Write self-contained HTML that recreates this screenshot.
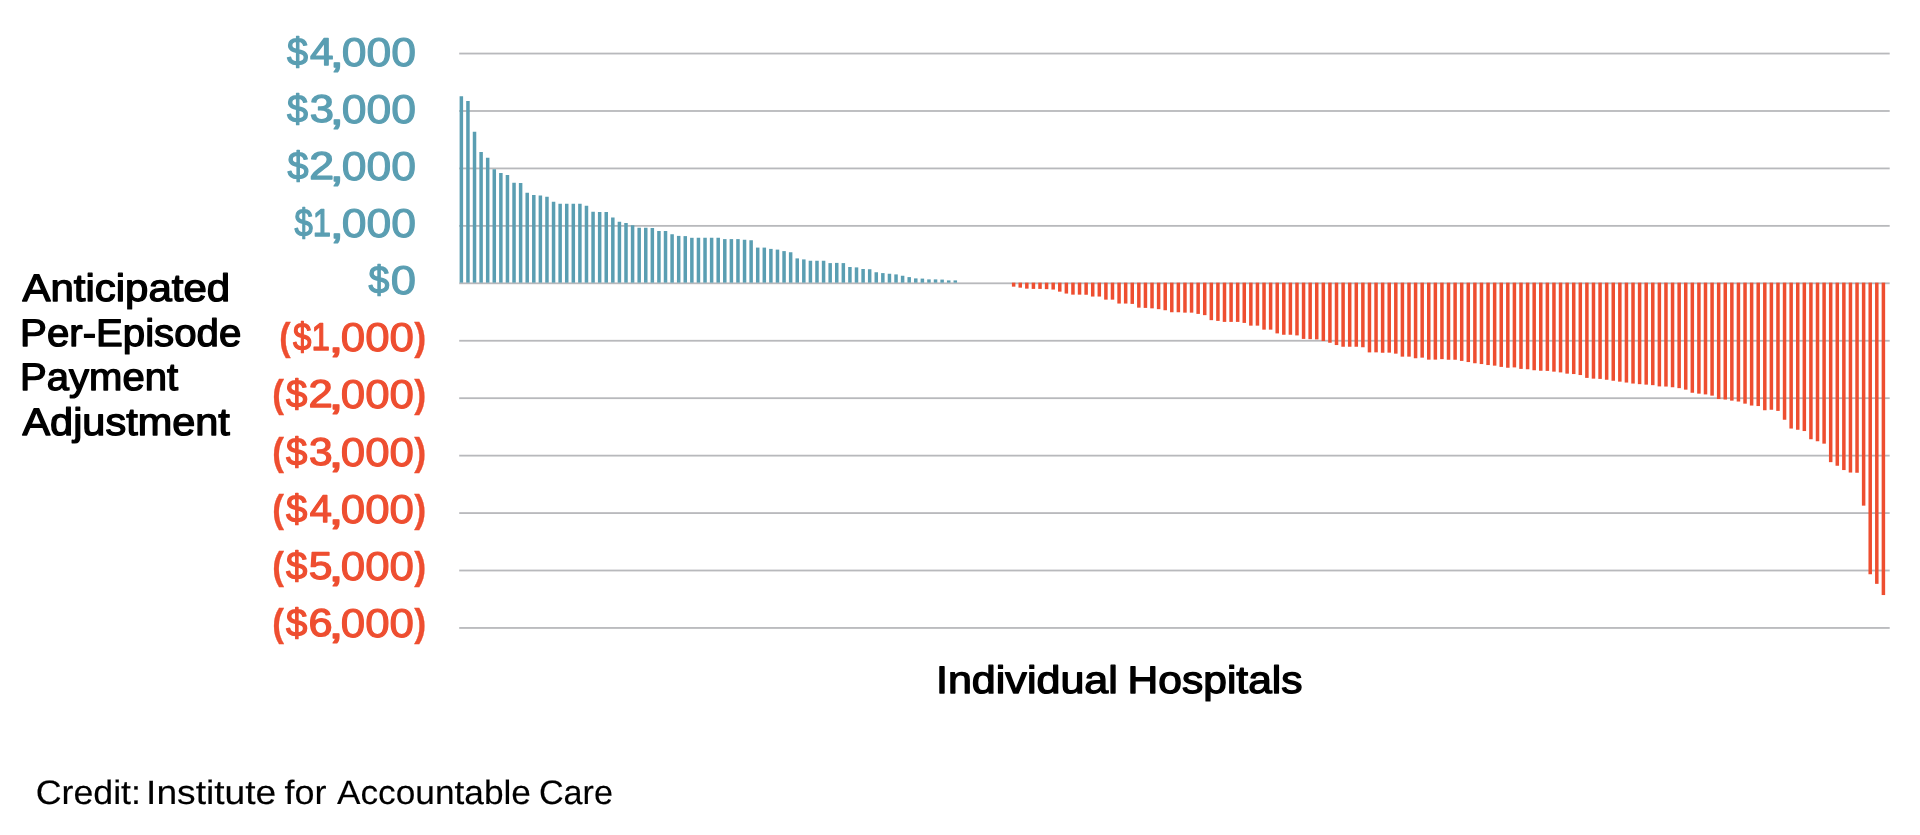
<!DOCTYPE html>
<html lang="en"><head><meta charset="utf-8"><title>Chart</title>
<style>
html,body{margin:0;padding:0;background:#fff;}
body{width:1920px;height:835px;position:relative;overflow:hidden;font-family:"Liberation Sans",sans-serif;}
</style></head><body>
<svg width="1920" height="835" viewBox="0 0 1920 835" style="position:absolute;left:0;top:0;will-change:transform">
<rect x="459.2" y="52.65" width="1430.5" height="1.8" fill="#b8b9bc"/>
<rect x="459.2" y="110.09" width="1430.5" height="1.8" fill="#b8b9bc"/>
<rect x="459.2" y="167.53" width="1430.5" height="1.8" fill="#b8b9bc"/>
<rect x="459.2" y="224.97" width="1430.5" height="1.8" fill="#b8b9bc"/>
<rect x="459.2" y="282.41" width="1430.5" height="1.8" fill="#b8b9bc"/>
<rect x="459.2" y="339.85" width="1430.5" height="1.8" fill="#b8b9bc"/>
<rect x="459.2" y="397.29" width="1430.5" height="1.8" fill="#b8b9bc"/>
<rect x="459.2" y="454.73" width="1430.5" height="1.8" fill="#b8b9bc"/>
<rect x="459.2" y="512.17" width="1430.5" height="1.8" fill="#b8b9bc"/>
<rect x="459.2" y="569.61" width="1430.5" height="1.8" fill="#b8b9bc"/>
<rect x="459.2" y="627.05" width="1430.5" height="1.8" fill="#b8b9bc"/>
<g fill="#5a9eb2">
<rect x="459.60" y="96.25" width="3.5" height="186.40"/>
<rect x="466.19" y="101.00" width="3.5" height="181.65"/>
<rect x="472.77" y="131.75" width="3.5" height="150.90"/>
<rect x="479.36" y="152.00" width="3.5" height="130.65"/>
<rect x="485.94" y="157.75" width="3.5" height="124.90"/>
<rect x="492.53" y="169.25" width="3.5" height="113.40"/>
<rect x="499.12" y="173.00" width="3.5" height="109.65"/>
<rect x="505.70" y="175.00" width="3.5" height="107.65"/>
<rect x="512.29" y="182.75" width="3.5" height="99.90"/>
<rect x="518.87" y="183.00" width="3.5" height="99.65"/>
<rect x="525.46" y="192.75" width="3.5" height="89.90"/>
<rect x="532.05" y="195.00" width="3.5" height="87.65"/>
<rect x="538.63" y="195.50" width="3.5" height="87.15"/>
<rect x="545.22" y="196.75" width="3.5" height="85.90"/>
<rect x="551.80" y="201.75" width="3.5" height="80.90"/>
<rect x="558.39" y="203.75" width="3.5" height="78.90"/>
<rect x="564.98" y="203.75" width="3.5" height="78.90"/>
<rect x="571.56" y="203.75" width="3.5" height="78.90"/>
<rect x="578.15" y="203.75" width="3.5" height="78.90"/>
<rect x="584.73" y="205.75" width="3.5" height="76.90"/>
<rect x="591.32" y="211.75" width="3.5" height="70.90"/>
<rect x="597.91" y="212.00" width="3.5" height="70.65"/>
<rect x="604.49" y="212.00" width="3.5" height="70.65"/>
<rect x="611.08" y="217.50" width="3.5" height="65.15"/>
<rect x="617.66" y="221.75" width="3.5" height="60.90"/>
<rect x="624.25" y="223.00" width="3.5" height="59.65"/>
<rect x="630.84" y="225.25" width="3.5" height="57.40"/>
<rect x="637.42" y="227.75" width="3.5" height="54.90"/>
<rect x="644.01" y="227.75" width="3.5" height="54.90"/>
<rect x="650.59" y="228.00" width="3.5" height="54.65"/>
<rect x="657.18" y="231.00" width="3.5" height="51.65"/>
<rect x="663.77" y="231.00" width="3.5" height="51.65"/>
<rect x="670.35" y="234.25" width="3.5" height="48.40"/>
<rect x="676.94" y="235.90" width="3.5" height="46.75"/>
<rect x="683.52" y="236.10" width="3.5" height="46.55"/>
<rect x="690.11" y="237.80" width="3.5" height="44.85"/>
<rect x="696.70" y="237.75" width="3.5" height="44.90"/>
<rect x="703.28" y="237.75" width="3.5" height="44.90"/>
<rect x="709.87" y="237.75" width="3.5" height="44.90"/>
<rect x="716.45" y="237.75" width="3.5" height="44.90"/>
<rect x="723.04" y="239.10" width="3.5" height="43.55"/>
<rect x="729.63" y="239.10" width="3.5" height="43.55"/>
<rect x="736.21" y="239.10" width="3.5" height="43.55"/>
<rect x="742.80" y="239.75" width="3.5" height="42.90"/>
<rect x="749.38" y="240.25" width="3.5" height="42.40"/>
<rect x="755.97" y="247.60" width="3.5" height="35.05"/>
<rect x="762.56" y="247.60" width="3.5" height="35.05"/>
<rect x="769.14" y="248.90" width="3.5" height="33.75"/>
<rect x="775.73" y="249.60" width="3.5" height="33.05"/>
<rect x="782.31" y="251.10" width="3.5" height="31.55"/>
<rect x="788.90" y="252.25" width="3.5" height="30.40"/>
<rect x="795.49" y="258.40" width="3.5" height="24.25"/>
<rect x="802.07" y="259.40" width="3.5" height="23.25"/>
<rect x="808.66" y="260.75" width="3.5" height="21.90"/>
<rect x="815.24" y="260.75" width="3.5" height="21.90"/>
<rect x="821.83" y="260.75" width="3.5" height="21.90"/>
<rect x="828.42" y="263.10" width="3.5" height="19.55"/>
<rect x="835.00" y="262.90" width="3.5" height="19.75"/>
<rect x="841.59" y="263.10" width="3.5" height="19.55"/>
<rect x="848.17" y="267.00" width="3.5" height="15.65"/>
<rect x="854.76" y="267.40" width="3.5" height="15.25"/>
<rect x="861.35" y="269.00" width="3.5" height="13.65"/>
<rect x="867.93" y="269.25" width="3.5" height="13.40"/>
<rect x="874.52" y="272.25" width="3.5" height="10.40"/>
<rect x="881.10" y="273.10" width="3.5" height="9.55"/>
<rect x="887.69" y="273.75" width="3.5" height="8.90"/>
<rect x="894.28" y="274.40" width="3.5" height="8.25"/>
<rect x="900.86" y="275.75" width="3.5" height="6.90"/>
<rect x="907.45" y="277.10" width="3.5" height="5.55"/>
<rect x="914.03" y="278.40" width="3.5" height="4.25"/>
<rect x="920.62" y="278.60" width="3.5" height="4.05"/>
<rect x="927.21" y="279.40" width="3.5" height="3.25"/>
<rect x="933.79" y="279.40" width="3.5" height="3.25"/>
<rect x="940.38" y="279.60" width="3.5" height="3.05"/>
<rect x="946.96" y="280.40" width="3.5" height="2.25"/>
<rect x="953.55" y="280.40" width="3.5" height="2.25"/>
</g>
<g fill="#ee4e30">
<rect x="1011.90" y="282.65" width="3.5" height="4.00"/>
<rect x="1018.49" y="282.65" width="3.5" height="5.00"/>
<rect x="1025.08" y="282.65" width="3.5" height="6.00"/>
<rect x="1031.67" y="282.65" width="3.5" height="6.25"/>
<rect x="1038.26" y="282.65" width="3.5" height="6.25"/>
<rect x="1044.85" y="282.65" width="3.5" height="6.50"/>
<rect x="1051.43" y="282.65" width="3.5" height="6.90"/>
<rect x="1058.02" y="282.65" width="3.5" height="9.00"/>
<rect x="1064.61" y="282.65" width="3.5" height="10.90"/>
<rect x="1071.20" y="282.65" width="3.5" height="12.00"/>
<rect x="1077.79" y="282.65" width="3.5" height="12.00"/>
<rect x="1084.38" y="282.65" width="3.5" height="12.10"/>
<rect x="1090.97" y="282.65" width="3.5" height="13.90"/>
<rect x="1097.56" y="282.65" width="3.5" height="13.90"/>
<rect x="1104.15" y="282.65" width="3.5" height="17.00"/>
<rect x="1110.73" y="282.65" width="3.5" height="17.00"/>
<rect x="1117.32" y="282.65" width="3.5" height="20.90"/>
<rect x="1123.91" y="282.65" width="3.5" height="20.90"/>
<rect x="1130.50" y="282.65" width="3.5" height="21.25"/>
<rect x="1137.09" y="282.65" width="3.5" height="25.00"/>
<rect x="1143.68" y="282.65" width="3.5" height="25.25"/>
<rect x="1150.27" y="282.65" width="3.5" height="25.70"/>
<rect x="1156.86" y="282.65" width="3.5" height="26.50"/>
<rect x="1163.45" y="282.65" width="3.5" height="27.60"/>
<rect x="1170.04" y="282.65" width="3.5" height="29.60"/>
<rect x="1176.62" y="282.65" width="3.5" height="29.60"/>
<rect x="1183.21" y="282.65" width="3.5" height="30.00"/>
<rect x="1189.80" y="282.65" width="3.5" height="30.00"/>
<rect x="1196.39" y="282.65" width="3.5" height="31.25"/>
<rect x="1202.98" y="282.65" width="3.5" height="32.50"/>
<rect x="1209.57" y="282.65" width="3.5" height="37.50"/>
<rect x="1216.16" y="282.65" width="3.5" height="38.25"/>
<rect x="1222.75" y="282.65" width="3.5" height="39.25"/>
<rect x="1229.34" y="282.65" width="3.5" height="39.25"/>
<rect x="1235.93" y="282.65" width="3.5" height="39.25"/>
<rect x="1242.51" y="282.65" width="3.5" height="40.25"/>
<rect x="1249.10" y="282.65" width="3.5" height="43.00"/>
<rect x="1255.69" y="282.65" width="3.5" height="43.00"/>
<rect x="1262.28" y="282.65" width="3.5" height="47.00"/>
<rect x="1268.87" y="282.65" width="3.5" height="47.00"/>
<rect x="1275.46" y="282.65" width="3.5" height="50.75"/>
<rect x="1282.05" y="282.65" width="3.5" height="52.10"/>
<rect x="1288.64" y="282.65" width="3.5" height="52.10"/>
<rect x="1295.23" y="282.65" width="3.5" height="52.75"/>
<rect x="1301.82" y="282.65" width="3.5" height="56.25"/>
<rect x="1308.40" y="282.65" width="3.5" height="56.50"/>
<rect x="1314.99" y="282.65" width="3.5" height="56.75"/>
<rect x="1321.58" y="282.65" width="3.5" height="58.40"/>
<rect x="1328.17" y="282.65" width="3.5" height="60.10"/>
<rect x="1334.76" y="282.65" width="3.5" height="62.40"/>
<rect x="1341.35" y="282.65" width="3.5" height="64.10"/>
<rect x="1347.94" y="282.65" width="3.5" height="64.10"/>
<rect x="1354.53" y="282.65" width="3.5" height="64.10"/>
<rect x="1361.12" y="282.65" width="3.5" height="64.60"/>
<rect x="1367.71" y="282.65" width="3.5" height="69.75"/>
<rect x="1374.30" y="282.65" width="3.5" height="69.70"/>
<rect x="1380.88" y="282.65" width="3.5" height="70.10"/>
<rect x="1387.47" y="282.65" width="3.5" height="70.00"/>
<rect x="1394.06" y="282.65" width="3.5" height="71.00"/>
<rect x="1400.65" y="282.65" width="3.5" height="74.00"/>
<rect x="1407.24" y="282.65" width="3.5" height="74.00"/>
<rect x="1413.83" y="282.65" width="3.5" height="75.60"/>
<rect x="1420.42" y="282.65" width="3.5" height="75.00"/>
<rect x="1427.01" y="282.65" width="3.5" height="77.00"/>
<rect x="1433.60" y="282.65" width="3.5" height="77.00"/>
<rect x="1440.18" y="282.65" width="3.5" height="76.50"/>
<rect x="1446.77" y="282.65" width="3.5" height="77.10"/>
<rect x="1453.36" y="282.65" width="3.5" height="77.10"/>
<rect x="1459.95" y="282.65" width="3.5" height="78.25"/>
<rect x="1466.54" y="282.65" width="3.5" height="79.40"/>
<rect x="1473.13" y="282.65" width="3.5" height="80.60"/>
<rect x="1479.72" y="282.65" width="3.5" height="81.40"/>
<rect x="1486.31" y="282.65" width="3.5" height="82.40"/>
<rect x="1492.90" y="282.65" width="3.5" height="83.00"/>
<rect x="1499.49" y="282.65" width="3.5" height="84.25"/>
<rect x="1506.08" y="282.65" width="3.5" height="85.10"/>
<rect x="1512.66" y="282.65" width="3.5" height="84.75"/>
<rect x="1519.25" y="282.65" width="3.5" height="86.25"/>
<rect x="1525.84" y="282.65" width="3.5" height="86.60"/>
<rect x="1532.43" y="282.65" width="3.5" height="87.60"/>
<rect x="1539.02" y="282.65" width="3.5" height="88.10"/>
<rect x="1545.61" y="282.65" width="3.5" height="88.25"/>
<rect x="1552.20" y="282.65" width="3.5" height="89.00"/>
<rect x="1558.79" y="282.65" width="3.5" height="89.75"/>
<rect x="1565.38" y="282.65" width="3.5" height="91.00"/>
<rect x="1571.97" y="282.65" width="3.5" height="91.40"/>
<rect x="1578.55" y="282.65" width="3.5" height="92.40"/>
<rect x="1585.14" y="282.65" width="3.5" height="95.25"/>
<rect x="1591.73" y="282.65" width="3.5" height="96.00"/>
<rect x="1598.32" y="282.65" width="3.5" height="96.25"/>
<rect x="1604.91" y="282.65" width="3.5" height="97.10"/>
<rect x="1611.50" y="282.65" width="3.5" height="98.10"/>
<rect x="1618.09" y="282.65" width="3.5" height="99.00"/>
<rect x="1624.68" y="282.65" width="3.5" height="99.90"/>
<rect x="1631.27" y="282.65" width="3.5" height="100.90"/>
<rect x="1637.86" y="282.65" width="3.5" height="101.50"/>
<rect x="1644.44" y="282.65" width="3.5" height="102.00"/>
<rect x="1651.03" y="282.65" width="3.5" height="102.50"/>
<rect x="1657.62" y="282.65" width="3.5" height="103.75"/>
<rect x="1664.21" y="282.65" width="3.5" height="103.90"/>
<rect x="1670.80" y="282.65" width="3.5" height="104.60"/>
<rect x="1677.39" y="282.65" width="3.5" height="105.50"/>
<rect x="1683.98" y="282.65" width="3.5" height="107.00"/>
<rect x="1690.57" y="282.65" width="3.5" height="110.10"/>
<rect x="1697.16" y="282.65" width="3.5" height="111.00"/>
<rect x="1703.74" y="282.65" width="3.5" height="111.75"/>
<rect x="1710.33" y="282.65" width="3.5" height="113.00"/>
<rect x="1716.92" y="282.65" width="3.5" height="116.40"/>
<rect x="1723.51" y="282.65" width="3.5" height="116.90"/>
<rect x="1730.10" y="282.65" width="3.5" height="118.00"/>
<rect x="1736.69" y="282.65" width="3.5" height="118.90"/>
<rect x="1743.28" y="282.65" width="3.5" height="121.00"/>
<rect x="1749.87" y="282.65" width="3.5" height="122.90"/>
<rect x="1756.46" y="282.65" width="3.5" height="123.40"/>
<rect x="1763.05" y="282.65" width="3.5" height="127.60"/>
<rect x="1769.63" y="282.65" width="3.5" height="127.10"/>
<rect x="1776.22" y="282.65" width="3.5" height="128.25"/>
<rect x="1782.81" y="282.65" width="3.5" height="137.10"/>
<rect x="1789.40" y="282.65" width="3.5" height="145.90"/>
<rect x="1795.99" y="282.65" width="3.5" height="147.10"/>
<rect x="1802.58" y="282.65" width="3.5" height="148.40"/>
<rect x="1809.17" y="282.65" width="3.5" height="156.60"/>
<rect x="1815.76" y="282.65" width="3.5" height="158.60"/>
<rect x="1822.35" y="282.65" width="3.5" height="161.00"/>
<rect x="1828.94" y="282.65" width="3.5" height="179.50"/>
<rect x="1835.53" y="282.65" width="3.5" height="183.10"/>
<rect x="1842.11" y="282.65" width="3.5" height="187.40"/>
<rect x="1848.70" y="282.65" width="3.5" height="189.90"/>
<rect x="1855.29" y="282.65" width="3.5" height="190.10"/>
<rect x="1861.88" y="282.65" width="3.5" height="223.00"/>
<rect x="1868.47" y="282.65" width="3.5" height="291.60"/>
<rect x="1875.06" y="282.65" width="3.5" height="301.20"/>
<rect x="1881.65" y="282.65" width="3.5" height="312.40"/>
</g>
<g font-family="'Liberation Sans', sans-serif" stroke-linejoin="round" style="text-rendering:geometricPrecision">
<text fill="#5a9eb2" stroke="#5a9eb2"><tspan x="286.91" y="65" font-size="38.80" font-weight="normal" stroke-width="1.3" textLength="20.99" lengthAdjust="spacingAndGlyphs">$</tspan><tspan x="310.09" y="65" font-size="38.80" font-weight="normal" stroke-width="1.3" textLength="23.43" lengthAdjust="spacingAndGlyphs">4</tspan><tspan x="329.77" y="67" font-size="38.80" font-weight="normal" stroke-width="1.3" textLength="14.11" lengthAdjust="spacingAndGlyphs">,</tspan><tspan x="341.87" y="66" font-size="40.16" font-weight="normal" stroke-width="1.05" textLength="74.23" lengthAdjust="spacingAndGlyphs">000</tspan></text>
<text fill="#5a9eb2" stroke="#5a9eb2"><tspan x="286.91" y="122" font-size="38.80" font-weight="normal" stroke-width="1.3" textLength="20.99" lengthAdjust="spacingAndGlyphs">$</tspan><tspan x="309.67" y="122" font-size="38.80" font-weight="normal" stroke-width="1.3" textLength="24.16" lengthAdjust="spacingAndGlyphs">3</tspan><tspan x="329.77" y="124" font-size="38.80" font-weight="normal" stroke-width="1.3" textLength="14.11" lengthAdjust="spacingAndGlyphs">,</tspan><tspan x="341.87" y="123" font-size="40.16" font-weight="normal" stroke-width="1.05" textLength="74.23" lengthAdjust="spacingAndGlyphs">000</tspan></text>
<text fill="#5a9eb2" stroke="#5a9eb2"><tspan x="287.41" y="179" font-size="38.80" font-weight="normal" stroke-width="1.3" textLength="20.99" lengthAdjust="spacingAndGlyphs">$</tspan><tspan x="309.24" y="179" font-size="38.80" font-weight="normal" stroke-width="1.3" textLength="24.84" lengthAdjust="spacingAndGlyphs">2</tspan><tspan x="329.77" y="181" font-size="38.80" font-weight="normal" stroke-width="1.3" textLength="14.11" lengthAdjust="spacingAndGlyphs">,</tspan><tspan x="341.87" y="180" font-size="40.16" font-weight="normal" stroke-width="1.05" textLength="74.23" lengthAdjust="spacingAndGlyphs">000</tspan></text>
<text fill="#5a9eb2" stroke="#5a9eb2"><tspan x="294.59" y="236" font-size="38.80" font-weight="normal" stroke-width="1.3" textLength="36.49" lengthAdjust="spacingAndGlyphs">$1</tspan><tspan x="329.77" y="238" font-size="38.80" font-weight="normal" stroke-width="1.3" textLength="14.11" lengthAdjust="spacingAndGlyphs">,</tspan><tspan x="341.87" y="237" font-size="40.16" font-weight="normal" stroke-width="1.05" textLength="74.23" lengthAdjust="spacingAndGlyphs">000</tspan></text>
<text fill="#5a9eb2" stroke="#5a9eb2"><tspan x="368.50" y="293" font-size="38.80" font-weight="normal" stroke-width="1.3" textLength="20.80" lengthAdjust="spacingAndGlyphs">$</tspan><tspan x="390.74" y="294" font-size="40.16" font-weight="normal" stroke-width="1.05" textLength="25.25" lengthAdjust="spacingAndGlyphs">0</tspan></text>
<text fill="#ee4e30" stroke="#ee4e30"><tspan x="279.33" y="350" font-size="38.80" font-weight="bold" stroke-width="0.3" textLength="11.40" lengthAdjust="spacingAndGlyphs">(</tspan><tspan x="293.09" y="350" font-size="38.80" font-weight="normal" stroke-width="1.3" textLength="36.80" lengthAdjust="spacingAndGlyphs">$1</tspan><tspan x="328.43" y="352" font-size="38.80" font-weight="normal" stroke-width="1.3" textLength="14.98" lengthAdjust="spacingAndGlyphs">,</tspan><tspan x="340.79" y="351" font-size="40.16" font-weight="normal" stroke-width="1.05" textLength="73.14" lengthAdjust="spacingAndGlyphs">000</tspan><tspan x="414.14" y="350" font-size="38.80" font-weight="bold" stroke-width="0.3" textLength="11.94" lengthAdjust="spacingAndGlyphs">)</tspan></text>
<text fill="#ee4e30" stroke="#ee4e30"><tspan x="272.29" y="407" font-size="38.80" font-weight="bold" stroke-width="0.3" textLength="11.75" lengthAdjust="spacingAndGlyphs">(</tspan><tspan x="285.90" y="407" font-size="38.80" font-weight="normal" stroke-width="1.3" textLength="21.30" lengthAdjust="spacingAndGlyphs">$</tspan><tspan x="308.57" y="407" font-size="38.80" font-weight="normal" stroke-width="1.3" textLength="24.28" lengthAdjust="spacingAndGlyphs">2</tspan><tspan x="328.43" y="409" font-size="38.80" font-weight="normal" stroke-width="1.3" textLength="14.98" lengthAdjust="spacingAndGlyphs">,</tspan><tspan x="340.79" y="408" font-size="40.16" font-weight="normal" stroke-width="1.05" textLength="73.14" lengthAdjust="spacingAndGlyphs">000</tspan><tspan x="414.14" y="407" font-size="38.80" font-weight="bold" stroke-width="0.3" textLength="11.94" lengthAdjust="spacingAndGlyphs">)</tspan></text>
<text fill="#ee4e30" stroke="#ee4e30"><tspan x="272.29" y="465" font-size="38.80" font-weight="bold" stroke-width="0.3" textLength="11.75" lengthAdjust="spacingAndGlyphs">(</tspan><tspan x="285.90" y="465" font-size="38.80" font-weight="normal" stroke-width="1.3" textLength="21.30" lengthAdjust="spacingAndGlyphs">$</tspan><tspan x="308.99" y="465" font-size="38.80" font-weight="normal" stroke-width="1.3" textLength="23.61" lengthAdjust="spacingAndGlyphs">3</tspan><tspan x="328.43" y="467" font-size="38.80" font-weight="normal" stroke-width="1.3" textLength="14.98" lengthAdjust="spacingAndGlyphs">,</tspan><tspan x="340.79" y="466" font-size="40.16" font-weight="normal" stroke-width="1.05" textLength="73.14" lengthAdjust="spacingAndGlyphs">000</tspan><tspan x="414.14" y="465" font-size="38.80" font-weight="bold" stroke-width="0.3" textLength="11.94" lengthAdjust="spacingAndGlyphs">)</tspan></text>
<text fill="#ee4e30" stroke="#ee4e30"><tspan x="272.29" y="522" font-size="38.80" font-weight="bold" stroke-width="0.3" textLength="11.75" lengthAdjust="spacingAndGlyphs">(</tspan><tspan x="285.90" y="522" font-size="38.80" font-weight="normal" stroke-width="1.3" textLength="21.30" lengthAdjust="spacingAndGlyphs">$</tspan><tspan x="309.80" y="522" font-size="38.80" font-weight="normal" stroke-width="1.3" textLength="22.10" lengthAdjust="spacingAndGlyphs">4</tspan><tspan x="328.43" y="524" font-size="38.80" font-weight="normal" stroke-width="1.3" textLength="14.98" lengthAdjust="spacingAndGlyphs">,</tspan><tspan x="340.79" y="523" font-size="40.16" font-weight="normal" stroke-width="1.05" textLength="73.14" lengthAdjust="spacingAndGlyphs">000</tspan><tspan x="414.14" y="522" font-size="38.80" font-weight="bold" stroke-width="0.3" textLength="11.94" lengthAdjust="spacingAndGlyphs">)</tspan></text>
<text fill="#ee4e30" stroke="#ee4e30"><tspan x="272.29" y="579" font-size="38.80" font-weight="bold" stroke-width="0.3" textLength="11.75" lengthAdjust="spacingAndGlyphs">(</tspan><tspan x="285.90" y="579" font-size="38.80" font-weight="normal" stroke-width="1.3" textLength="21.30" lengthAdjust="spacingAndGlyphs">$</tspan><tspan x="308.86" y="579" font-size="38.80" font-weight="normal" stroke-width="1.3" textLength="23.65" lengthAdjust="spacingAndGlyphs">5</tspan><tspan x="328.43" y="581" font-size="38.80" font-weight="normal" stroke-width="1.3" textLength="14.98" lengthAdjust="spacingAndGlyphs">,</tspan><tspan x="340.79" y="580" font-size="40.16" font-weight="normal" stroke-width="1.05" textLength="73.14" lengthAdjust="spacingAndGlyphs">000</tspan><tspan x="414.14" y="579" font-size="38.80" font-weight="bold" stroke-width="0.3" textLength="11.94" lengthAdjust="spacingAndGlyphs">)</tspan></text>
<text fill="#ee4e30" stroke="#ee4e30"><tspan x="272.29" y="636" font-size="38.80" font-weight="bold" stroke-width="0.3" textLength="11.75" lengthAdjust="spacingAndGlyphs">(</tspan><tspan x="285.90" y="636" font-size="38.80" font-weight="normal" stroke-width="1.3" textLength="21.30" lengthAdjust="spacingAndGlyphs">$</tspan><tspan x="308.53" y="636" font-size="38.80" font-weight="normal" stroke-width="1.3" textLength="24.08" lengthAdjust="spacingAndGlyphs">6</tspan><tspan x="328.43" y="638" font-size="38.80" font-weight="normal" stroke-width="1.3" textLength="14.98" lengthAdjust="spacingAndGlyphs">,</tspan><tspan x="340.79" y="637" font-size="40.16" font-weight="normal" stroke-width="1.05" textLength="73.14" lengthAdjust="spacingAndGlyphs">000</tspan><tspan x="414.14" y="636" font-size="38.80" font-weight="bold" stroke-width="0.3" textLength="11.94" lengthAdjust="spacingAndGlyphs">)</tspan></text>
<text fill="#000" stroke="#000"><tspan x="22.45" y="301" font-size="38.40" font-weight="normal" stroke-width="1.3" textLength="207.71" lengthAdjust="spacingAndGlyphs">Anticipated</tspan> <tspan x="20.12" y="346" font-size="38.40" font-weight="normal" stroke-width="1.3" textLength="221.13" lengthAdjust="spacingAndGlyphs">Per-Episode</tspan> <tspan x="20.13" y="390" font-size="38.40" font-weight="normal" stroke-width="1.3" textLength="157.98" lengthAdjust="spacingAndGlyphs">Payment</tspan> <tspan x="22.44" y="435" font-size="38.40" font-weight="normal" stroke-width="1.3" textLength="207.46" lengthAdjust="spacingAndGlyphs">Adjustment</tspan></text>
<text fill="#000" stroke="#000"><tspan x="935.95" y="693" font-size="38.40" font-weight="normal" stroke-width="1.3" textLength="181.92" lengthAdjust="spacingAndGlyphs">Individual</tspan> <tspan x="1127.62" y="693" font-size="38.40" font-weight="normal" stroke-width="1.3" textLength="174.90" lengthAdjust="spacingAndGlyphs">Hospitals</tspan></text>
<text fill="#000" stroke="#000"><tspan x="35.77" y="804" font-size="33.80" font-weight="normal" stroke-width="0.15" textLength="105.14" lengthAdjust="spacingAndGlyphs">Credit:</tspan> <tspan x="146.06" y="804" font-size="33.80" font-weight="normal" stroke-width="0.15" textLength="130.24" lengthAdjust="spacingAndGlyphs">Institute</tspan> <tspan x="284.55" y="804" font-size="33.80" font-weight="normal" stroke-width="0.15" textLength="42.00" lengthAdjust="spacingAndGlyphs">for</tspan> <tspan x="336.95" y="804" font-size="33.80" font-weight="normal" stroke-width="0.15" textLength="194.00" lengthAdjust="spacingAndGlyphs">Accountable</tspan> <tspan x="538.94" y="804" font-size="33.80" font-weight="normal" stroke-width="0.15" textLength="74.01" lengthAdjust="spacingAndGlyphs">Care</tspan></text>
</g>
</svg>
</body></html>
